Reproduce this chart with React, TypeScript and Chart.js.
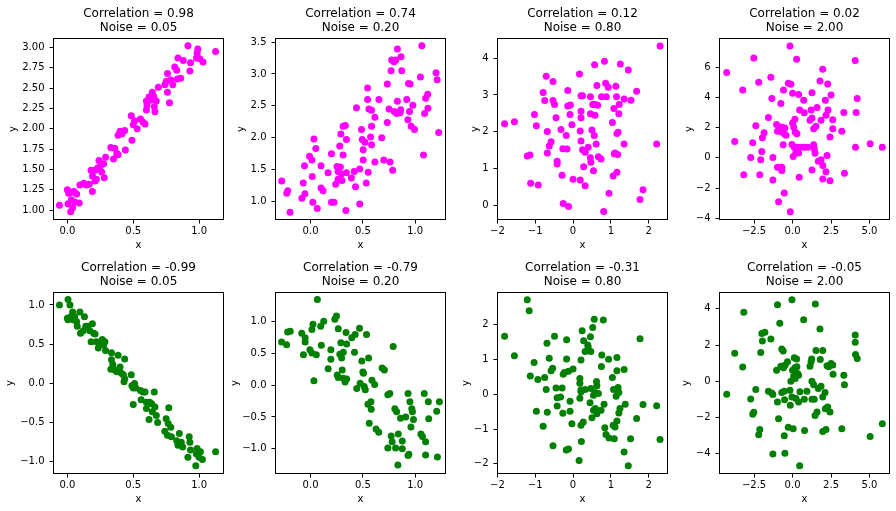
import React, { useEffect, useRef } from 'react';
import { Chart, registerables } from 'chart.js';

Chart.register(...registerables);

const FONT = "'DejaVu Sans', 'Liberation Sans', sans-serif";

const correlationLabels = ['0.98', '0.74', '0.12', '0.02', '-0.99', '-0.79', '-0.31', '-0.05'];
const noiseLabels = ['0.05', '0.20', '0.80', '2.00', '0.05', '0.20', '0.80', '2.00'];
const rowColors = ['#ff00ff', '#008000'];

const pointsCorr098 = [
  [-0.06, 1.06], [0.0, 1.25], [0.01, 1.21], [0.03, 1.22], [0.05, 1.23], [0.07, 1.2], [0.005, 1.08], [0.03, 1.13],
  [0.025, 0.98], [0.04, 1.03], [0.055, 1.1], [0.09, 1.09], [0.095, 1.31], [0.125, 1.33], [0.145, 1.31], [0.165, 1.32],
  [0.18, 1.49], [0.19, 1.23], [0.19, 1.42], [0.21, 1.36], [0.21, 1.49], [0.22, 1.38], [0.23, 1.52], [0.24, 1.61],
  [0.25, 1.54], [0.26, 1.47], [0.275, 1.57], [0.28, 1.4], [0.29, 1.65], [0.33, 1.77], [0.35, 1.63], [0.36, 1.76],
  [0.375, 1.7], [0.385, 1.68], [0.385, 1.92], [0.4, 1.97], [0.415, 1.94], [0.435, 1.98], [0.44, 1.74], [0.485, 2.16],
  [0.49, 1.86], [0.5, 2.05], [0.51, 2.1], [0.53, 2.0], [0.555, 2.12], [0.575, 2.08], [0.59, 2.06], [0.6, 2.23],
  [0.6, 2.34], [0.605, 2.29], [0.62, 2.39], [0.63, 2.35], [0.645, 2.45], [0.655, 2.4], [0.66, 2.27], [0.665, 2.21],
  [0.675, 2.34], [0.69, 2.51], [0.74, 2.54], [0.75, 2.58], [0.76, 2.68], [0.76, 2.45], [0.775, 2.32], [0.785, 2.6],
  [0.8, 2.54], [0.815, 2.76], [0.83, 2.72], [0.835, 2.61], [0.84, 2.87], [0.86, 2.62], [0.88, 2.84], [0.915, 3.02],
  [0.93, 2.71], [0.935, 2.81], [0.985, 2.93], [0.99, 2.98], [0.98, 2.87], [1.005, 2.86], [1.03, 2.82], [1.125, 2.95],
];

const pointsCorr074 = [
  [-0.276, 1.32], [-0.228, 1.13], [-0.218, 1.17], [-0.196, 0.83], [-0.083, 1.05], [-0.07, 1.29], [-0.058, 1.56],
  [-0.054, 1.12], [-0.01, 1.71], [0.013, 1.65], [0.016, 1.39], [0.022, 0.99], [0.032, 1.98], [0.05, 1.83],
  [0.064, 0.89], [0.1, 1.56], [0.1, 1.21], [0.12, 1.17], [0.167, 1.45], [0.2, 1.75], [0.2, 0.99], [0.224, 0.99],
  [0.24, 1.27], [0.253, 1.55], [0.263, 1.47], [0.263, 1.35], [0.279, 1.87], [0.285, 1.54], [0.29, 2.06],
  [0.295, 1.43], [0.311, 2.18], [0.311, 1.73], [0.3, 1.33], [0.333, 2.19], [0.343, 1.97], [0.343, 1.45],
  [0.337, 0.86], [0.39, 1.37], [0.417, 1.47], [0.43, 1.23], [0.439, 2.47], [0.47, 1.51], [0.47, 0.96],
  [0.487, 2.13], [0.494, 1.97], [0.503, 1.81], [0.503, 1.65], [0.52, 1.93], [0.532, 1.29], [0.545, 2.78],
  [0.545, 2.6], [0.551, 1.46], [0.558, 2.45], [0.574, 2.01], [0.583, 2.43], [0.583, 1.89], [0.583, 2.18],
  [0.615, 2.32], [0.615, 1.62], [0.654, 2.6], [0.68, 2.0], [0.7, 1.65], [0.734, 2.24], [0.734, 2.84], [0.75, 2.45],
  [0.76, 1.62], [0.77, 3.05], [0.776, 3.22], [0.785, 1.49], [0.798, 3.19], [0.814, 3.22], [0.8, 2.41],
  [0.824, 2.38], [0.83, 3.39], [0.83, 2.57], [0.856, 2.39], [0.862, 2.44], [0.865, 3.27], [0.872, 3.05],
  [0.92, 2.6], [0.93, 2.28], [0.936, 2.85], [0.946, 2.41], [0.952, 2.84], [0.962, 2.18], [0.978, 2.51],
  [0.994, 2.13], [1.05, 2.95], [1.064, 3.44], [1.08, 1.73], [1.09, 2.38], [1.1, 2.62], [1.12, 2.68],
  [1.122, 2.46], [1.2, 3.02], [1.21, 2.91], [1.225, 2.08],
];

const pointsCorr012 = [
  [-1.81, 2.22], [-1.55, 2.27], [-1.21, 1.34], [-1.14, 1.37], [-1.12, 0.6], [-1.02, 2.47], [-0.97, 2.16],
  [-0.92, 0.55], [-0.79, 3.07], [-0.75, 2.85], [-0.71, 3.51], [-0.68, 2.01], [-0.68, 1.42], [-0.63, 1.61],
  [-0.58, 1.73], [-0.53, 3.37], [-0.53, 2.85], [-0.49, 2.74], [-0.45, 2.38], [-0.42, 1.2], [-0.42, 1.12],
  [-0.32, 2.06], [-0.29, 0.82], [-0.27, 1.54], [-0.26, 0.05], [-0.18, 1.9], [-0.16, 1.53], [-0.14, 3.12],
  [-0.14, 2.7], [-0.12, -0.03], [-0.08, 2.47], [-0.07, 2.73], [-0.03, 2.19], [0.0, 0.71], [0.17, 3.57],
  [0.19, 2.02], [0.19, 0.69], [0.21, 2.98], [0.21, 2.56], [0.21, 2.38], [0.21, 1.75], [0.25, 2.98], [0.25, 1.51],
  [0.28, 1.05], [0.32, 0.53], [0.32, 1.44], [0.4, 1.58], [0.46, 2.95], [0.46, 2.49], [0.46, 1.29], [0.47, 1.17],
  [0.5, 2.05], [0.52, 2.74], [0.54, 0.94], [0.56, 1.9], [0.57, 3.82], [0.58, 2.45], [0.59, 2.74], [0.61, 1.67],
  [0.63, 3.26], [0.65, 2.72], [0.67, 1.32], [0.74, 1.26], [0.75, 2.95], [0.81, -0.17], [0.83, 3.92], [0.86, 3.32],
  [0.88, 2.95], [0.93, 3.21], [0.95, 0.33], [1.04, 2.25], [1.06, 0.8], [1.08, 2.63], [1.09, 1.4], [1.11, 1.42],
  [1.13, 3.24], [1.16, 0.9], [1.15, 2.95], [1.16, 1.95], [1.18, 1.38], [1.19, 1.99], [1.21, 2.49], [1.22, 2.74],
  [1.25, 3.84], [1.35, 1.67], [1.35, 2.89], [1.46, 3.68], [1.53, 2.86], [1.68, 3.1], [1.77, 0.16], [1.85, 0.42],
  [2.21, 1.67], [2.3, 4.33],
];

const pointsCorr002 = [
  [-4.28, 5.64], [-3.76, 1.09], [-3.24, 4.49], [-3.17, -1.11], [-2.72, 0.02], [-2.59, 1.0], [-2.52, 6.6],
  [-2.39, 2.13], [-2.2, 5.0], [-2.13, -1.11], [-2.07, -0.13], [-2.0, 0.42], [-1.96, 1.33], [-1.85, 1.67],
  [-1.57, 2.67], [-1.41, 5.33], [-1.35, 3.93], [-1.28, 0.02], [-1.28, -1.47], [-1.04, 2.2], [-0.98, 1.76],
  [-0.91, -2.91], [-0.98, -0.62], [-0.76, 3.6], [-0.72, 2.04], [-0.7, 1.71], [-0.7, -0.62], [-0.7, -0.84],
  [-0.61, 1.98], [-0.61, 0.87], [-0.59, 4.49], [-0.54, 1.6], [-0.54, -2.33], [-0.5, 1.98], [-0.43, 1.49],
  [-0.28, 4.93], [-0.17, 7.4], [-0.15, -3.56], [-0.11, 4.87], [-0.04, 0.89], [0.0, 2.31], [0.0, 4.27], [0.04, 0.09],
  [0.07, 2.04], [0.11, 0.71], [0.15, 2.56], [0.17, 1.71], [0.22, 0.38], [0.26, 6.53], [0.26, 0.71], [0.28, 1.6],
  [0.39, 4.2], [0.39, 0.33], [0.43, -1.29], [0.46, 3.16], [0.5, 0.71], [0.72, 3.82], [0.76, 2.98], [0.76, 0.71],
  [0.98, 0.71], [1.13, 2.49], [1.2, 3.16], [1.26, 4.31], [1.26, 2.64], [1.26, -0.8], [1.37, 1.93], [1.37, 0.87],
  [1.41, 0.6], [1.46, 0.31], [1.52, 2.09], [1.59, 3.33], [1.67, -0.22], [1.78, 5.09], [1.85, 2.49], [1.85, -0.13],
  [1.96, 5.87], [1.96, -0.51], [1.96, -1.4], [2.13, 3.82], [2.17, 2.82], [2.17, -0.91], [2.24, 0.16], [2.28, 4.89],
  [2.3, 3.16], [2.43, 1.38], [2.43, -1.51], [2.5, 4.16], [2.61, 2.53], [2.61, 1.93], [3.2, 1.76], [3.33, 3.0],
  [3.37, -1.02], [4.07, 6.44], [4.09, 0.71], [4.13, 3.0], [4.2, 3.93], [5.04, 0.93], [5.83, 0.71],
];

const pointsCorrNeg099 = [
  [-0.06, 1.0], [0.005, 1.07], [0.02, 1.0], [0.0, 0.83], [0.005, 0.81], [0.025, 0.85], [0.04, 0.91], [0.045, 0.81],
  [0.055, 0.85], [0.07, 0.79], [0.075, 0.73], [0.095, 0.91], [0.1, 0.64], [0.12, 0.67], [0.13, 0.85], [0.14, 0.73],
  [0.155, 0.73], [0.17, 0.67], [0.18, 0.53], [0.19, 0.76], [0.2, 0.64], [0.21, 0.63], [0.22, 0.53], [0.235, 0.45],
  [0.245, 0.5], [0.26, 0.51], [0.265, 0.56], [0.275, 0.49], [0.285, 0.53], [0.29, 0.42], [0.335, 0.39], [0.335, 0.3],
  [0.33, 0.18], [0.345, 0.24], [0.36, 0.17], [0.375, 0.15], [0.385, 0.36], [0.4, 0.21], [0.41, 0.13], [0.425, 0.11],
  [0.435, 0.31], [0.43, 0.02], [0.435, 0.06], [0.485, 0.11], [0.49, -0.03], [0.5, -0.06], [0.5, -0.27], [0.51, 0.0],
  [0.52, -0.06], [0.555, -0.09], [0.56, -0.21], [0.575, -0.11], [0.59, -0.11], [0.6, -0.24], [0.6, -0.32],
  [0.62, -0.46], [0.625, -0.24], [0.64, -0.26], [0.645, -0.36], [0.66, -0.11], [0.665, -0.3], [0.675, -0.41],
  [0.685, -0.5], [0.74, -0.61], [0.75, -0.45], [0.76, -0.66], [0.765, -0.51], [0.77, -0.31], [0.785, -0.56],
  [0.79, -0.68], [0.83, -0.73], [0.84, -0.79], [0.85, -0.64], [0.875, -0.81], [0.865, -0.75], [0.915, -0.94],
  [0.925, -0.68], [0.93, -0.75], [0.935, -0.85], [0.975, -1.05], [0.98, -0.9], [0.985, -0.83], [0.99, -0.9],
  [1.0, -0.94], [1.01, -0.87], [1.025, -0.97], [1.125, -0.87],
];

const pointsCorrNeg079 = [
  [-0.277, 0.68], [-0.229, 0.64], [-0.219, 0.84], [-0.194, 0.85], [-0.084, 0.82], [-0.068, 0.48], [-0.052, 0.75],
  [-0.052, 0.68], [-0.006, 0.56], [0.013, 0.51], [0.013, 0.88], [0.023, 0.96], [0.032, 0.07], [0.055, 0.48],
  [0.065, 1.35], [0.097, 0.93], [0.103, 0.63], [0.126, 1.01], [0.194, 0.56], [0.194, 0.41], [0.168, 0.26],
  [0.232, 1.04], [0.248, 1.09], [0.255, 0.16], [0.265, 0.89], [0.265, 0.12], [0.28, 0.49], [0.29, 0.67],
  [0.297, 0.43], [0.303, 0.24], [0.313, 0.52], [0.313, 0.11], [0.33, 0.05], [0.339, 0.83], [0.345, 0.65],
  [0.345, 0.1], [0.394, 0.75], [0.42, 0.52], [0.426, 0.8], [0.442, -0.05], [0.468, 0.9], [0.474, 0.03],
  [0.49, 0.38], [0.5, 0.21], [0.506, 0.19], [0.513, -0.02], [0.523, -0.07], [0.535, 0.8], [0.548, -0.3],
  [0.555, 0.43], [0.561, -0.6], [0.577, -0.26], [0.58, -0.38], [0.587, 0.08], [0.613, 0.01], [0.626, -0.69],
  [0.652, -0.74], [0.684, 0.27], [0.706, 0.24], [0.739, -0.99], [0.739, -0.15], [0.758, -0.13], [0.771, -0.8],
  [0.78, -0.89], [0.79, 0.61], [0.806, -0.37], [0.813, -0.99], [0.823, -0.42], [0.835, -1.26], [0.839, -0.77],
  [0.86, -0.52], [0.877, -1.0], [0.877, -0.88], [0.91, -0.5], [0.932, -0.13], [0.95, -0.26], [0.96, -0.66],
  [0.968, -0.37], [0.974, -0.42], [0.984, -0.54], [0.932, -1.11], [0.94, -1.09], [1.055, -0.77], [1.07, -0.81],
  [1.087, -0.13], [1.1, -0.89], [1.1, -1.1], [1.126, -0.26], [1.13, -0.53], [1.206, -0.41], [1.213, -1.13],
  [1.232, -0.26],
];

const pointsCorrNeg031 = [
  [-1.81, 1.66], [-1.55, 1.1], [-1.21, 2.71], [-1.16, 2.39], [-1.13, 0.52], [-1.03, 0.91], [-0.97, -0.49],
  [-0.93, 0.42], [-0.79, -0.92], [-0.75, 0.48], [-0.71, 0.13], [-0.69, 1.46], [-0.68, -0.52], [-0.63, 1.03],
  [-0.58, 0.67], [-0.54, 0.74], [-0.53, -1.48], [-0.49, 1.66], [-0.45, 0.18], [-0.42, -0.34], [-0.42, -0.1],
  [-0.33, -0.08], [-0.29, 0.18], [-0.27, -0.55], [-0.26, 0.57], [-0.23, 0.62], [-0.18, -1.6], [-0.17, 1.56],
  [-0.17, 1.01], [-0.12, -1.57], [-0.12, 0.66], [-0.08, -0.2], [-0.08, -0.49], [-0.03, -0.85], [0.0, 0.72],
  [0.16, -1.9], [0.18, 0.45], [0.18, 0.31], [0.18, -0.12], [0.21, 0.98], [0.21, 0.12], [0.21, 0.07], [0.21, -0.89],
  [0.22, -1.36], [0.24, 1.82], [0.27, -0.8], [0.28, 1.53], [0.32, 1.22], [0.32, 0.13], [0.39, 1.41], [0.4, 1.35],
  [0.45, -0.25], [0.46, 1.65], [0.47, 1.22], [0.47, 0.16], [0.5, -0.68], [0.52, 1.91], [0.54, -0.03],
  [0.54, -0.46], [0.56, 2.15], [0.58, 0.05], [0.59, -0.41], [0.62, 0.36], [0.63, 0.24], [0.63, -0.56],
  [0.67, 0.02], [0.74, -0.46], [0.75, 0.79], [0.76, 1.12], [0.8, 2.13], [0.82, -0.29], [0.84, -0.96],
  [0.87, -1.16], [0.94, 1.0], [0.95, -1.26], [1.04, 0.48], [1.06, -0.89], [1.07, 0.13], [1.09, -1.28],
  [1.11, -0.94], [1.14, -0.06], [1.16, 1.05], [1.16, 0.67], [1.16, -0.77], [1.18, 0.12], [1.19, 0.19],
  [1.21, 0.05], [1.21, -0.54], [1.24, -0.41], [1.35, 0.71], [1.35, -1.66], [1.38, -0.29], [1.46, -2.05],
  [1.52, -1.28], [1.68, -0.7], [1.77, 1.59], [1.85, -0.3], [2.21, -0.33], [2.3, -1.3],
];

const pointsCorrNeg005 = [
  [-4.28, -0.72], [-3.76, 1.54], [-3.24, 0.78], [-3.17, 3.81], [-2.72, -0.98], [-2.59, -1.83], [-2.52, -1.72],
  [-2.39, -0.46], [-2.2, -2.96], [-2.13, -2.67], [-2.07, 1.59], [-2.0, 2.63], [-1.96, 2.22], [-1.8, 2.7],
  [-1.57, -0.56], [-1.41, 2.33], [-1.35, -0.65], [-1.28, -0.74], [-1.28, -4.02], [-1.04, 0.61], [-0.98, -1.15],
  [-0.98, 4.22], [-0.91, -2.07], [-0.83, 3.2], [-0.76, 0.83], [-0.7, -0.63], [-0.7, 1.78], [-0.61, 1.67],
  [-0.59, 0.74], [-0.54, -0.56], [-0.54, -3.02], [-0.52, -1.02], [-0.5, -3.98], [-0.48, 0.89], [-0.33, 1.07],
  [-0.28, -2.54], [-0.17, -0.5], [-0.15, -1.33], [-0.11, 0.0], [-0.04, 4.5], [-0.04, -0.87], [0.0, 0.61],
  [0.04, -2.63], [0.07, 0.28], [0.11, 1.3], [0.15, 0.74], [0.17, 0.15], [0.22, -0.96], [0.26, 1.22], [0.28, 0.8],
  [0.33, 0.43], [0.39, 0.33], [0.39, -1.15], [0.46, -4.67], [0.48, -0.59], [0.72, 3.39], [0.76, -1.0],
  [0.78, -2.72], [0.93, -0.56], [1.13, 0.83], [1.2, 1.07], [1.24, 1.22], [1.26, 0.0], [1.26, -1.0], [1.37, -0.19],
  [1.41, -1.0], [1.46, -1.89], [1.48, 4.26], [1.52, 1.69], [1.59, -1.7], [1.67, -0.41], [1.78, 2.89], [1.8, 1.2],
  [1.85, -0.28], [1.96, 1.69], [1.96, -0.87], [1.96, -2.78], [2.11, -0.63], [2.13, -1.52], [2.17, -2.67],
  [2.24, 0.85], [2.28, -1.43], [2.35, 0.8], [2.43, -1.7], [2.5, 0.98], [2.61, 0.89], [2.63, 0.39], [3.2, -2.63],
  [3.33, 0.33], [3.37, -0.19], [4.07, 2.56], [4.07, 2.15], [4.09, 1.48], [4.2, 1.26], [5.04, -3.06], [5.83, -2.35],
];

const panelPoints = [
  pointsCorr098, pointsCorr074, pointsCorr012, pointsCorr002,
  pointsCorrNeg099, pointsCorrNeg079, pointsCorrNeg031, pointsCorrNeg005,
];

const xTicksByColumn = [[0, 0.5, 1], [0, 0.5, 1], [-2, -1, 0, 1, 2], [-2.5, 0, 2.5, 5]];
const xDecimalsByColumn = [1, 1, 0, 1];
const xLimitsByColumn = [[-0.109, 1.189], [-0.34, 1.295], [-2.01, 2.51], [-4.78, 6.33]];

const yTicksByPanel = [
  [1, 1.25, 1.5, 1.75, 2, 2.25, 2.5, 2.75, 3],
  [1, 1.5, 2, 2.5, 3, 3.5],
  [0, 1, 2, 3, 4],
  [-4, -2, 0, 2, 4, 6],
  [-1, -0.5, 0, 0.5, 1],
  [-1, -0.5, 0, 0.5, 1],
  [-2, -1, 0, 1, 2],
  [-4, -2, 0, 2, 4],
];
const yDecimalsByPanel = [2, 1, 0, 0, 1, 1, 0, 0];
const yLimitsByPanel = [
  [0.88, 3.115], [0.71, 3.563], [-0.4, 4.55], [-4.11, 7.93],
  [-1.155, 1.165], [-1.4, 1.47], [-2.29, 2.93], [-5.13, 4.93],
];

// layout (page pixels)
const COL_LEFT = [53, 275, 497, 719];
const ROW_TOP = [38, 292];
const PLOT_W = 171;
const PLOT_H = 182;
const PAD_L = 50;
const PAD_R = 5;
const PAD_T = 40;
const PAD_B = 36;
const Y_TITLE_OFFSET = [39.4, 33.9, 21.9, 29.7, 42.7, 39.9, 30.1, 32.1];

const fmt = (v: number, d: number) => {
  const s = Math.abs(v).toFixed(d);
  return (v < -1e-9 ? '\u2212' : '') + s;
};

const framePlugin = {
  id: 'axesFrame',
  afterDatasetsDraw(chart: any) {
    const { ctx, chartArea } = chart;
    const { left, top, right, bottom } = chartArea;
    ctx.save();
    ctx.strokeStyle = '#000';
    ctx.lineWidth = 1;
    ctx.strokeRect(left + 0.5, top + 0.5, right - left - 1, bottom - top - 1);
    ctx.restore();
  },
};

function Panel({ index }: { index: number }) {
  const ref = useRef<HTMLCanvasElement | null>(null);
  const row = Math.floor(index / 4);
  const col = index % 4;
  const width = PAD_L + PLOT_W + PAD_R;
  const height = PAD_T + PLOT_H + PAD_B;
  const left = COL_LEFT[col] - PAD_L;
  const top = ROW_TOP[row] - PAD_T;

  useEffect(() => {
    if (!ref.current) return;
    const xTicks = xTicksByColumn[col];
    const yTicks = yTicksByPanel[index];
    const xd = xDecimalsByColumn[col];
    const yd = yDecimalsByPanel[index];
    const yTitlePad = PAD_L - Y_TITLE_OFFSET[index] - 6;
    const chart = new Chart(ref.current, {
      type: 'scatter',
      data: {
        datasets: [
          {
            data: panelPoints[index].map(([x, y]) => ({ x, y })),
            backgroundColor: rowColors[row],
            borderWidth: 0,
            pointRadius: 3.5,
            pointHoverRadius: 3.5,
          },
        ],
      },
      options: {
        animation: false,
        responsive: false,
        devicePixelRatio: 1,
        events: [],
        layout: { padding: { left: 0, top: 0, right: PAD_R, bottom: 0 } },
        plugins: {
          legend: { display: false },
          tooltip: { enabled: false },
          title: {
            display: true,
            fullSize: false,
            text: [`Correlation = ${correlationLabels[index]}`, `Noise = ${noiseLabels[index]}`],
            color: '#000',
            font: { family: FONT, size: 12, weight: 'normal', lineHeight: 1.2 },
            padding: { top: 8.2, bottom: 3 },
          },
        },
        scales: {
          x: {
            type: 'linear',
            position: 'bottom',
            min: xLimitsByColumn[col][0],
            max: xLimitsByColumn[col][1],
            bounds: 'data',
            afterBuildTicks: (s: any) => {
              s.ticks = xTicks.map((v) => ({ value: v }));
            },
            afterFit: (s: any) => {
              s.height = PAD_B;
            },
            ticks: {
              callback: (v: any) => fmt(Number(v), xd),
              color: '#000',
              font: { family: FONT, size: 10, lineHeight: 1.2 },
              padding: 2,
              maxRotation: 0,
              autoSkip: false,
            },
            grid: {
              display: true,
              drawOnChartArea: false,
              drawTicks: true,
              tickLength: 3.5,
              tickColor: '#000',
              tickWidth: 1,
              lineWidth: 1,
            },
            border: { display: false },
            title: {
              display: true,
              text: 'x',
              color: '#000',
              font: { family: FONT, size: 10, lineHeight: 1.2 },
              padding: { top: 0, bottom: 4.5 },
            },
          },
          y: {
            type: 'linear',
            position: 'left',
            min: yLimitsByPanel[index][0],
            max: yLimitsByPanel[index][1],
            bounds: 'data',
            afterBuildTicks: (s: any) => {
              s.ticks = yTicks.map((v) => ({ value: v }));
            },
            afterFit: (s: any) => {
              s.width = PAD_L;
            },
            ticks: {
              callback: (v: any) => fmt(Number(v), yd),
              color: '#000',
              font: { family: FONT, size: 10, lineHeight: 1.2 },
              padding: 5,
              autoSkip: false,
            },
            grid: {
              display: true,
              drawOnChartArea: false,
              drawTicks: true,
              tickLength: 3.5,
              tickColor: '#000',
              tickWidth: 1,
              lineWidth: 1,
            },
            border: { display: false },
            title: {
              display: true,
              text: 'y',
              color: '#000',
              font: { family: FONT, size: 10, lineHeight: 1.2 },
              padding: { top: yTitlePad, bottom: 0 },
            },
          },
        },
      },
      plugins: [framePlugin],
    } as any);
    return () => chart.destroy();
  }, [index]);

  return (
    <canvas
      ref={ref}
      width={width}
      height={height}
      style={{ position: 'absolute', left, top, width, height }}
    />
  );
}

export default function App() {
  return (
    <div
      style={{
        position: 'absolute',
        left: 0,
        top: 0,
        width: 896,
        height: 511,
        overflow: 'hidden',
        background: '#ffffff',
      }}
    >
      {[0, 1, 2, 3, 4, 5, 6, 7].map((i) => (
        <Panel key={i} index={i} />
      ))}
    </div>
  );
}
